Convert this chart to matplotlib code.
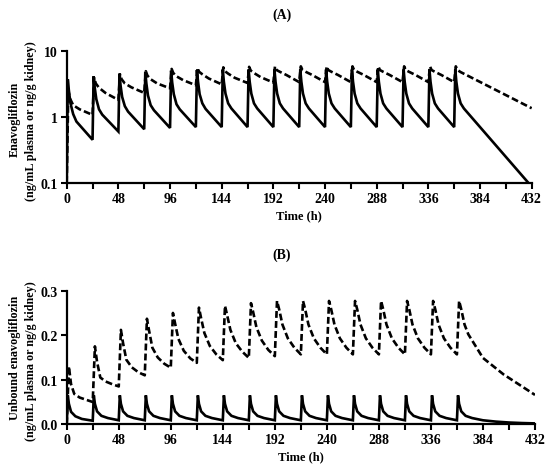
"""
Simulated enavogliflozin profiles after repeated once-daily dosing:
(A) total concentrations, (B) unbound concentrations, plasma (solid)
and kidney (dashed).
"""

import matplotlib
matplotlib.use('Agg')
import matplotlib.pyplot as plt

plt.rcParams['font.family'] = ['Liberation Serif', 'DejaVu Serif']
plt.rcParams['font.weight'] = 'bold'
plt.rcParams['axes.labelweight'] = 'bold'
plt.rcParams['font.size'] = 9

# dose times of the repeated cycles (the 360 h dose is in the tail arrays)
doses = [0, 24, 48, 72, 96, 120, 144, 168, 192, 216, 240, 264, 288, 312, 336]

# ---- (A) total, plasma: hours after dose and values per cycle
offs_a_plasma = [1, 2, 3.5, 6, 9, 24]
a_plasma = [
    [3.7, 2.5, 1.6, 1.1, 0.85, 0.45],
    [4.1, 2.8, 1.85, 1.3, 1.08, 0.60],
    [4.5, 3.0, 2.0, 1.45, 1.2, 0.65],
    [4.8, 3.2, 2.1, 1.5, 1.26, 0.68],
    [5.0, 3.3, 2.2, 1.55, 1.30, 0.70],
    [5.1, 3.4, 2.2, 1.6, 1.32, 0.70],
    [5.2, 3.4, 2.25, 1.6, 1.34, 0.70],
    [5.2, 3.4, 2.25, 1.6, 1.34, 0.70],
    [5.2, 3.4, 2.25, 1.6, 1.34, 0.70],
    [5.2, 3.4, 2.25, 1.6, 1.34, 0.70],
    [5.2, 3.4, 2.25, 1.6, 1.34, 0.70],
    [5.2, 3.4, 2.25, 1.6, 1.34, 0.70],
    [5.2, 3.4, 2.25, 1.6, 1.34, 0.70],
    [5.2, 3.4, 2.25, 1.6, 1.34, 0.70],
    [5.2, 3.4, 2.25, 1.6, 1.34, 0.70],
]
tail_t_a_plasma = [361, 362, 363.5, 366, 369, 432]
tail_a_plasma = [5.2, 3.4, 2.25, 1.6, 1.34, 0.088]

# ---- (A) total, kidney
offs_a_kidney = [1.5, 3, 6, 12, 24]
a_kidney = [
    [2.5, 1.9, 1.5, 1.3, 1.07],
    [3.9, 3.2, 2.75, 2.3, 1.8],
    [4.4, 3.7, 3.2, 2.8, 2.3],
    [4.9, 4.2, 3.7, 3.2, 2.7],
    [5.3, 4.6, 4.1, 3.6, 3.0],
    [5.5, 4.8, 4.4, 3.8, 3.1],
    [5.6, 4.9, 4.5, 3.9, 3.25],
    [5.7, 5.0, 4.6, 4.0, 3.3],
    [5.8, 5.1, 4.8, 4.3, 3.35],
    [5.8, 5.1, 4.8, 4.3, 3.35],
    [5.8, 5.1, 4.8, 4.3, 3.35],
    [5.8, 5.1, 4.8, 4.3, 3.35],
    [5.8, 5.1, 4.8, 4.3, 3.35],
    [5.8, 5.1, 4.8, 4.3, 3.35],
    [5.8, 5.1, 4.8, 4.3, 3.35],
]
tail_t_a_kidney = [361.5, 363, 366, 432]
tail_a_kidney = [5.8, 5.1, 4.75, 1.35]

# ---- (B) unbound, plasma
offs_b_plasma = [1, 2, 4, 8, 14, 24]
b_plasma = [
    [0.065, 0.046, 0.028, 0.018, 0.012, 0.008],
    [0.065, 0.046, 0.029, 0.019, 0.014, 0.009],
    [0.065, 0.046, 0.029, 0.019, 0.014, 0.009],
    [0.065, 0.046, 0.029, 0.019, 0.014, 0.009],
    [0.065, 0.046, 0.029, 0.019, 0.014, 0.009],
    [0.065, 0.046, 0.029, 0.019, 0.014, 0.009],
    [0.065, 0.046, 0.029, 0.019, 0.014, 0.009],
    [0.065, 0.046, 0.029, 0.019, 0.014, 0.009],
    [0.065, 0.046, 0.029, 0.019, 0.014, 0.009],
    [0.065, 0.046, 0.029, 0.019, 0.014, 0.009],
    [0.065, 0.046, 0.029, 0.019, 0.014, 0.009],
    [0.065, 0.046, 0.029, 0.019, 0.014, 0.009],
    [0.065, 0.046, 0.029, 0.019, 0.014, 0.009],
    [0.065, 0.046, 0.029, 0.019, 0.014, 0.009],
    [0.065, 0.046, 0.029, 0.019, 0.014, 0.009],
]
tail_t_b_plasma = [361, 362, 364, 368, 374, 384, 396, 408, 420, 432]
tail_b_plasma = [0.065, 0.046, 0.029, 0.019, 0.014, 0.009, 0.006, 0.004,
                 0.0028, 0.002]

# ---- (B) unbound, kidney
offs_b_kidney = [2, 4, 7, 12, 18, 24]
b_kidney = [
    [0.130, 0.090, 0.068, 0.060, 0.055, 0.050],
    [0.175, 0.140, 0.105, 0.096, 0.090, 0.085],
    [0.212, 0.182, 0.145, 0.128, 0.117, 0.110],
    [0.237, 0.210, 0.172, 0.150, 0.136, 0.127],
    [0.250, 0.226, 0.192, 0.165, 0.148, 0.138],
    [0.262, 0.238, 0.205, 0.176, 0.157, 0.144],
    [0.266, 0.245, 0.212, 0.182, 0.163, 0.149],
    [0.272, 0.252, 0.218, 0.188, 0.167, 0.153],
    [0.277, 0.258, 0.224, 0.193, 0.172, 0.157],
    [0.277, 0.258, 0.224, 0.193, 0.172, 0.157],
    [0.277, 0.258, 0.224, 0.193, 0.172, 0.157],
    [0.277, 0.258, 0.224, 0.193, 0.172, 0.157],
    [0.277, 0.258, 0.224, 0.193, 0.172, 0.157],
    [0.277, 0.258, 0.224, 0.193, 0.172, 0.157],
    [0.277, 0.258, 0.224, 0.193, 0.172, 0.157],
]
tail_t_b_kidney = [362, 364, 367, 370.5, 384, 403, 432]
tail_b_kidney = [0.277, 0.258, 0.224, 0.202, 0.149, 0.112, 0.066]

time_ticks = [0, 24, 48, 72, 96, 120, 144, 168, 192, 216, 240, 264, 288,
              312, 336, 360, 384, 408, 432]


def build_curve(start, offsets, cycles, tail_t, tail_v):
    """Join the per-dose samples and the washout tail into one line."""
    t = [0]
    v = [start]
    for d, row in zip(doses, cycles):
        t += [d + o for o in offsets]
        v += list(row)
    t += tail_t
    v += tail_v
    return t, v


def style_axes(ax):
    for side in ['top', 'right']:
        ax.spines[side].set_visible(False)
    for side in ['left', 'bottom']:
        ax.spines[side].set_linewidth(1.6)
    ax.tick_params(direction='out', length=4.5, width=1.5, pad=2,
                   labelsize=10)
    ax.tick_params(which='minor', length=0)
    ax.set_xlim(0, 432)
    ax.set_xticks(time_ticks)
    ax.set_xticklabels([str(x) if x % 48 == 0 else '' for x in time_ticks])
    ax.set_xlabel('Time (h)', fontsize=9, labelpad=3)


fig = plt.figure(figsize=(5.5, 4.77), dpi=100)
solid = dict(color='black', lw=1.9, solid_joinstyle='miter')
dashed = dict(color='black', lw=1.9, linestyle=(0, (2.6, 1.2)))

# (A)
ax1 = fig.add_axes([0.1213, 0.6143, 0.8454, 0.2773])
t, v = build_curve(0.1, offs_a_plasma, a_plasma, tail_t_a_plasma,
                   tail_a_plasma)
ax1.plot(t, v, **solid)
t, v = build_curve(0.1, offs_a_kidney, a_kidney, tail_t_a_kidney,
                   tail_a_kidney)
ax1.plot(t, v, **dashed)
ax1.set_yscale('log')
ax1.set_ylim(0.1, 10)
ax1.set_yticks([0.1, 1, 10])
ax1.set_yticklabels(['0.1', '1', '10'])
style_axes(ax1)

# (B)
ax2 = fig.add_axes([0.1213, 0.1084, 0.8514, 0.2801])
t, v = build_curve(0.0, offs_b_plasma, b_plasma, tail_t_b_plasma,
                   tail_b_plasma)
ax2.plot(t, v, **solid)
t, v = build_curve(0.0, offs_b_kidney, b_kidney, tail_t_b_kidney,
                   tail_b_kidney)
ax2.plot(t, v, **dashed)
ax2.set_ylim(0, 0.3)
ax2.set_yticks([0.0, 0.1, 0.2, 0.3])
ax2.set_yticklabels(['0.0', '0.1', '0.2', '0.3'])
style_axes(ax2)

# panel letters and two-line y labels
fig.text(282 / 550, 1 - 15 / 477, '(A)', ha='center', va='center',
         fontsize=10)
fig.text(282 / 550, 1 - 255 / 477, '(B)', ha='center', va='center',
         fontsize=10)
fig.text(15 / 550, 1 - 119 / 477, 'Enavogliflozin', rotation=90,
         ha='center', va='center', fontsize=8.7)
fig.text(31.5 / 550, 1 - 121 / 477, '(ng/mL plasma or ng/g kidney)',
         rotation=90, ha='center', va='center', fontsize=8.7)
fig.text(15 / 550, 1 - 358 / 477, 'Unbound enavogliflozin', rotation=90,
         ha='center', va='center', fontsize=8.7)
fig.text(31.5 / 550, 1 - 361 / 477, '(ng/mL plasma or ng/g kidney)',
         rotation=90, ha='center', va='center', fontsize=8.7)

fig.savefig('out.png', dpi=100)
